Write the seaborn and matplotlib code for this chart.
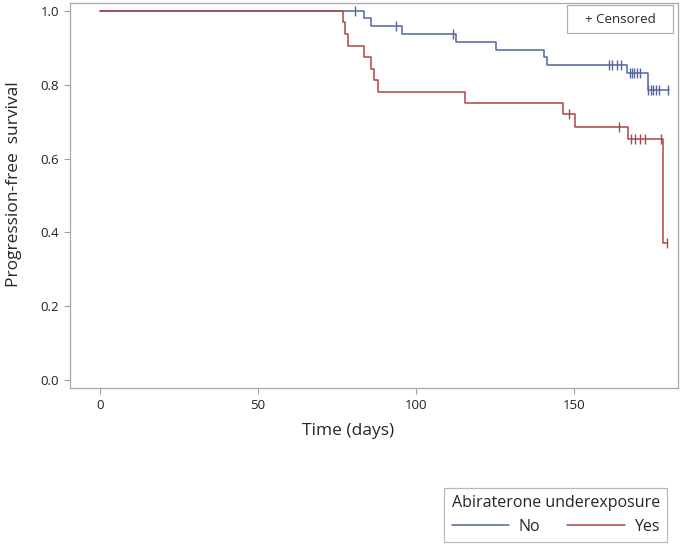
import pandas as pd
import numpy as np
import matplotlib
matplotlib.use("Agg")
import matplotlib.pyplot as plt
from matplotlib.patches import Rectangle
import seaborn as sns

# step curves (time in days, survival)
no_time = [0, 83.6, 85.6, 95.7, 112.6, 125.3, 140.5, 141.5, 166.7, 173.5, 180.0]
no_surv = [1.0, 0.980, 0.959, 0.938, 0.917, 0.894, 0.875, 0.854, 0.831, 0.786, 0.786]
yes_time = [0, 77.0, 77.5, 78.6, 83.5, 85.6, 86.7, 87.9, 115.5, 146.4, 150.3, 167.2, 178.3, 179.3]
yes_surv = [1.0, 0.969, 0.938, 0.906, 0.875, 0.844, 0.813, 0.781, 0.750, 0.720, 0.686, 0.653, 0.370, 0.370]

# censored observations
no_cens_time = [80.7, 93.7, 111.8, 161.2, 162.0, 163.5, 165.0, 167.7, 168.4, 169.0, 169.8, 170.9,
                173.5, 174.3, 175.1, 176.0, 177.0, 179.8]
no_cens_surv = [1.0, 0.959, 0.938, 0.854, 0.854, 0.854, 0.854, 0.831, 0.831, 0.831, 0.831, 0.831,
                0.786, 0.786, 0.786, 0.786, 0.786, 0.786]
yes_cens_time = [148.5, 164.3, 168.0, 169.3, 170.9, 172.5, 177.4, 179.3]
yes_cens_surv = [0.720, 0.686, 0.653, 0.653, 0.653, 0.653, 0.653, 0.370]

groups = ["No", "Yes"]
colors = {"No": "#55659e", "Yes": "#ad4543"}

curves = pd.concat([
    pd.DataFrame({"time": no_time, "surv": no_surv, "group": "No"}),
    pd.DataFrame({"time": yes_time, "surv": yes_surv, "group": "Yes"}),
], ignore_index=True)
cens = pd.concat([
    pd.DataFrame({"time": no_cens_time, "surv": no_cens_surv, "group": "No"}),
    pd.DataFrame({"time": yes_cens_time, "surv": yes_cens_surv, "group": "Yes"}),
], ignore_index=True)

sns.set_style("white")
plt.rcParams["font.family"] = ["Open Sans", "DejaVu Sans"]

fig = plt.figure(figsize=(6.85, 5.49), dpi=100)
ax = fig.add_axes([0.1022, 0.2933, 0.8876, 0.7017])

for g in groups:
    d = curves[curves["group"] == g]
    sns.lineplot(data=d, x="time", y="surv", ax=ax, color=colors[g], lw=1.1,
                 drawstyle="steps-post", label=g, estimator=None, sort=False)
    c = cens[cens["group"] == g]
    ax.scatter(c["time"], c["surv"], marker="|", s=60, color=colors[g], lw=1.0, zorder=3)

ax.set_xlim(-9.5, 182.9)
ax.set_ylim(-0.022, 1.0225)
ax.set_xticks([0, 50, 100, 150])
ax.set_yticks([0.0, 0.2, 0.4, 0.6, 0.8, 1.0])
ax.set_yticklabels(["0.0", "0.2", "0.4", "0.6", "0.8", "1.0"])
ax.tick_params(axis="both", direction="out", length=4, width=0.8, color="#a0a0a0",
               labelsize=9.5, labelcolor="#222222", bottom=True, left=True, pad=4)
for s in ax.spines.values():
    s.set_color("#a8a8a8")
    s.set_linewidth(0.9)

ax.set_xlabel("Time (days)", fontsize=12.5)
ax.xaxis.set_label_coords(0.457, -0.091)
ax.set_ylabel("Progression-free  survival", fontsize=12.5)
ax.yaxis.set_label_coords(-0.079, 0.528)

# censored key box
ax.add_patch(Rectangle((0.817, 0.921), 0.175, 0.073, transform=ax.transAxes,
                       fill=False, edgecolor="#b0b0b0", lw=0.9, zorder=4))
ax.text(0.9045, 0.9575, "+ Censored", transform=ax.transAxes, ha="center", va="center",
        fontsize=9.5)

handles, labels = ax.get_legend_handles_labels()
ax.get_legend().remove()
leg = fig.legend(handles, labels, title="Abiraterone underexposure", ncol=2,
                 loc="lower right", bbox_to_anchor=(0.974, 0.0128), borderaxespad=0,
                 frameon=True, fancybox=False, edgecolor="#a8a8a8", fontsize=11.5,
                 title_fontsize=11.5, handlelength=3.6, handletextpad=0.6,
                 columnspacing=1.7, borderpad=0.45)
leg._legend_box.align = "left"
leg.get_frame().set_linewidth(0.9)

fig.savefig("out.png", dpi=100)
